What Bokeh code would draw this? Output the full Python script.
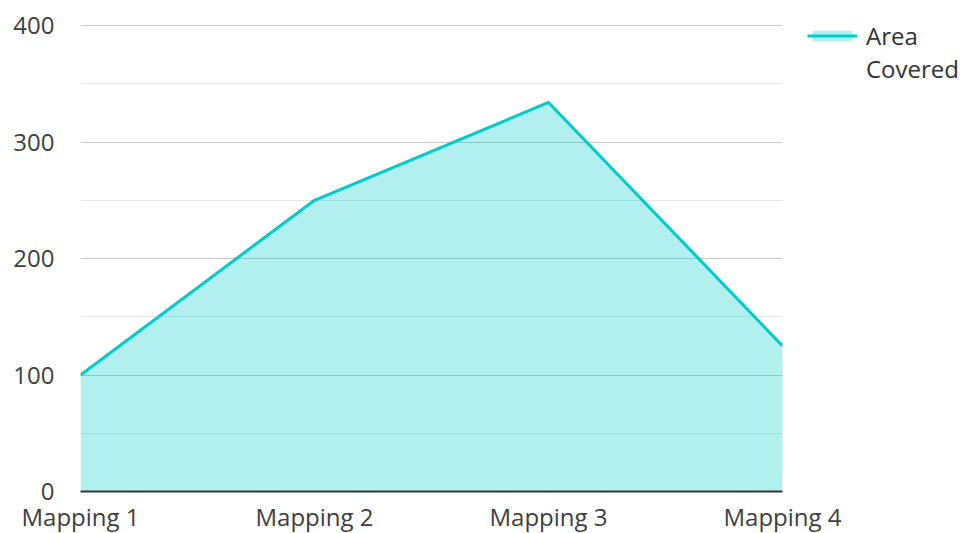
from bokeh.plotting import figure
from bokeh.models import FixedTicker, SingleIntervalTicker, Legend, LegendItem, Range1d, ColumnDataSource
from bokeh.embed import file_html
from bokeh.resources import INLINE

categories = ["Mapping 1", "Mapping 2", "Mapping 3", "Mapping 4"]
area_covered = [100, 250, 334, 125]
series_name_lines = ["Area", "Covered"]

xs = list(range(len(categories)))
src = ColumnDataSource(dict(x=xs, y=area_covered, y0=[0] * len(xs)))

FONT = "Open Sans"
TXT = "#404040"

p = figure(frame_width=702, frame_height=467, output_backend="svg", toolbar_location=None,
           x_range=Range1d(0, len(categories) - 1), y_range=Range1d(0, 400.9),
           min_border_left=80, min_border_right=10, min_border_top=24, min_border_bottom=40)
p.outline_line_color = None
p.background_fill_color = "white"

area = p.varea(x="x", y1="y0", y2="y", source=src, fill_color="#00CCCC", fill_alpha=0.3)
line = p.line(x="x", y="y", source=src, line_color="#00CCCC", line_width=3)

# x axis
p.xaxis.ticker = FixedTicker(ticks=xs)
p.xaxis.major_label_overrides = {i: c for i, c in enumerate(categories)}
p.xaxis.axis_line_color = "#333333"
p.xaxis.axis_line_width = 2
p.xaxis.major_tick_line_color = None
p.xaxis.minor_tick_line_color = None
p.xaxis.major_tick_out = 0
p.xaxis.major_label_text_font = FONT
p.xaxis.major_label_text_font_size = "24px"
p.xaxis.major_label_text_color = TXT
p.xaxis.major_label_standoff = 8

# y axis
p.yaxis.ticker = SingleIntervalTicker(interval=100, num_minor_ticks=2)
p.yaxis.axis_line_color = None
p.yaxis.major_tick_line_color = None
p.yaxis.minor_tick_line_color = None
p.yaxis.major_tick_out = 0
p.yaxis.major_label_text_font = FONT
p.yaxis.major_label_text_font_size = "24px"
p.yaxis.major_label_text_color = TXT
p.yaxis.major_label_standoff = 22

p.xgrid.grid_line_color = None
p.ygrid.grid_line_color = "#c8c8c8"
p.ygrid.grid_line_width = 1
p.ygrid.minor_grid_line_color = "#e6e6e6"
p.ygrid.minor_grid_line_width = 1

legend = Legend(items=[LegendItem(label=series_name_lines[0], renderers=[area, line]),
                       LegendItem(label=series_name_lines[1], renderers=[])],
                location=(25, 406), border_line_color=None, background_fill_alpha=0,
                label_text_font=FONT, label_text_font_size="24px", label_text_color="#333333",
                glyph_width=50, glyph_height=13, label_standoff=9, padding=0, margin=0,
                spacing=0, label_height=32, label_text_line_height=1.33)
p.add_layout(legend, "right")

open("out.html", "w").write(file_html(p, INLINE))
